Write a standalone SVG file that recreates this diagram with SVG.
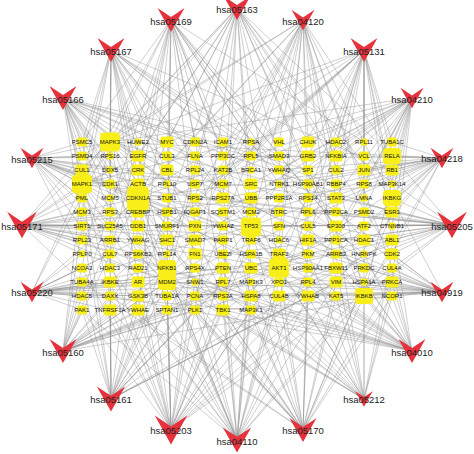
<svg xmlns="http://www.w3.org/2000/svg" xmlns:xlink="http://www.w3.org/1999/xlink" width="474" height="454" viewBox="0 0 474 454">
<style>
.e path{fill:none;stroke:#8c8c8c;stroke-width:0.55;stroke-opacity:0.75}
.g text{font-family:"Liberation Sans",Arial,sans-serif;font-size:6px;text-anchor:middle;fill:#111}
.h text{font-family:"Liberation Sans",Arial,sans-serif;font-size:9.5px;text-anchor:middle;fill:#222}
.y{fill:#F8EF1A}
.v{fill:#E5323C}
</style>
<defs>
<rect id="b1" class="y" x="-3.5" y="-3.5" width="7" height="7" rx="1.5"/>
<rect id="b2" class="y" x="-5" y="-4.5" width="10" height="9" rx="2"/>
<rect id="b3" class="y" x="-6.5" y="-5.5" width="13" height="11" rx="2.5"/>
<rect id="b4" class="y" x="-9" y="-8" width="18" height="16" rx="3.5"/>
<rect id="b5" class="y" x="-10" y="-9.5" width="20" height="19" rx="4"/>
<rect id="b6" class="y" x="-11" y="-13" width="22" height="26" rx="5"/>
<path id="v" class="v" d="M-13.5,-12 L0,-3 L13.5,-12 L0,12 Z"/>
</defs>
<rect width="474" height="454" fill="#fff"/>
<g class="e" id="edges">
<path d="M237 8L110 142M237 8L82 184M237 8L138 198M237 8L251 226M237 8L279 268M237 8L167 268M237 8L167 282M237 8L364 296M237 8L392 198M237 8L392 156M237 8L308 142M237 8L336 156M237 8L167 142M237 8L138 156M237 8L223 198M237 8L251 184M237 8L364 170M237 8L82 170M237 8L195 310M237 8L336 240M237 8L138 296M237 8L308 268M237 8L223 310M237 8L392 254M237 8L82 240"/>
<path d="M171 20L110 142M171 20L82 184M171 20L138 198M171 20L251 226M171 20L279 268M171 20L167 268M171 20L167 282M171 20L82 142M171 20L138 170M171 20L167 170M171 20L195 142M171 20L223 156M171 20L251 142M171 20L279 184M171 20L308 212M171 20L336 226M171 20L364 240M171 20L392 296M171 20L110 254M171 20L82 296M171 20L138 310M171 20L223 282M171 20L251 296M171 20L195 226M171 20L364 142"/>
<path d="M303 20L110 142M303 20L138 198M303 20L251 226M303 20L279 268M303 20L167 282M303 20L364 296M303 20L392 198M303 20L392 156M303 20L308 142M303 20L336 156M303 20L279 142M303 20L251 170M303 20L223 184M303 20L195 212M303 20L364 184M303 20L336 198M303 20L308 226M303 20L279 240M303 20L392 268M303 20L336 282M303 20L195 296M303 20L110 226M303 20L82 156M303 20L167 240"/>
<path d="M111 50L110 142M111 50L82 184M111 50L138 198M111 50L251 226M111 50L279 268M111 50L167 268M111 50L82 142M111 50L82 156M111 50L110 156M111 50L138 142M111 50L167 156M111 50L195 170M111 50L223 142M111 50L110 184M111 50L82 212M111 50L110 226M111 50L138 240M111 50L195 254M111 50L308 184M111 50L336 212M111 50L392 170M111 50L364 254M111 50L223 296M111 50L167 310M111 50L279 156"/>
<path d="M364 50L110 142M364 50L82 184M364 50L138 198M364 50L251 226M364 50L279 268M364 50L364 296M364 50L392 198M364 50L392 156M364 50L392 142M364 50L364 142M364 50L336 142M364 50L364 156M364 50L336 170M364 50L308 156M364 50L392 184M364 50L364 198M364 50L336 212M364 50L308 240M364 50L392 240M364 50L251 156M364 50L223 170M364 50L195 198M364 50L167 226M364 50L279 296M364 50L110 282"/>
<path d="M63 98L110 142M63 98L82 184M63 98L138 198M63 98L251 226M63 98L167 268M63 98L167 282M63 98L82 142M63 98L82 156M63 98L82 170M63 98L110 170M63 98L138 156M63 98L167 184M63 98L195 156M63 98L82 226M63 98L110 212M63 98L138 254M63 98L223 226M63 98L279 198M63 98L308 170M63 98L336 184M63 98L392 212M63 98L364 268M63 98L195 282M63 98L110 296M63 98L251 142"/>
<path d="M412 98L110 142M412 98L138 198M412 98L251 226M412 98L279 268M412 98L364 296M412 98L392 198M412 98L392 156M412 98L392 142M412 98L392 170M412 98L364 170M412 98L336 156M412 98L308 170M412 98L364 184M412 98L392 226M412 98L364 212M412 98L336 240M412 98L308 198M412 98L279 170M412 98L251 184M412 98L223 212M412 98L195 240M412 98L167 198M412 98L82 184M412 98L308 282M412 98L392 282"/>
<path d="M32 158L110 142M32 158L82 184M32 158L138 198M32 158L251 226M32 158L279 268M32 158L167 268M32 158L167 282M32 158L82 142M32 158L82 156M32 158L82 170M32 158L110 156M32 158L110 184M32 158L82 198M32 158L110 198M32 158L138 170M32 158L167 212M32 158L195 184M32 158L223 226M32 158L82 254M32 158L110 268M32 158L138 282M32 158L308 156M32 158L336 198M32 158L392 240M32 158L364 282"/>
<path d="M442 158L110 142M442 158L82 184M442 158L138 198M442 158L251 226M442 158L279 268M442 158L364 296M442 158L392 198M442 158L392 156M442 158L392 142M442 158L392 170M442 158L392 184M442 158L364 156M442 158L364 170M442 158L336 184M442 158L392 212M442 158L364 226M442 158L336 254M442 158L308 212M442 158L279 184M442 158L251 156M442 158L223 198M442 158L195 268M442 158L167 240M442 158L392 254M442 158L336 282"/>
<path d="M22 225L110 142M22 225L82 184M22 225L138 198M22 225L251 226M22 225L279 268M22 225L167 268M22 225L167 282M22 225L82 198M22 225L82 212M22 225L82 226M22 225L82 240M22 225L110 226M22 225L110 240M22 225L82 254M22 225L110 212M22 225L138 226M22 225L138 254M22 225L195 212M22 225L223 240M22 225L110 170M22 225L82 156M22 225L308 226M22 225L336 268M22 225L392 184M22 225L364 240M22 225L251 296M22 225L82 282"/>
<path d="M452 225L110 142M452 225L82 184M452 225L138 198M452 225L251 226M452 225L279 268M452 225L167 282M452 225L364 296M452 225L392 198M452 225L392 156M452 225L392 212M452 225L392 226M452 225L392 240M452 225L364 226M452 225L364 212M452 225L336 240M452 225L392 254M452 225L364 254M452 225L336 198M452 225L308 212M452 225L279 226M452 225L223 254M452 225L195 198M452 225L167 226M452 225L392 268M452 225L308 282M452 225L336 142"/>
<path d="M32 292L110 142M32 292L82 184M32 292L138 198M32 292L251 226M32 292L279 268M32 292L167 268M32 292L167 282M32 292L82 268M32 292L82 282M32 292L82 296M32 292L82 310M32 292L110 282M32 292L110 296M32 292L110 310M32 292L138 296M32 292L138 282M32 292L82 254M32 292L110 254M32 292L195 282M32 292L223 268M32 292L251 310M32 292L308 296M32 292L336 254M32 292L392 282M32 292L138 240"/>
<path d="M442 292L110 142M442 292L138 198M442 292L251 226M442 292L279 268M442 292L167 282M442 292L364 296M442 292L392 198M442 292L392 268M442 292L392 282M442 292L392 296M442 292L364 282M442 292L364 268M442 292L336 296M442 292L336 282M442 292L308 296M442 292L308 268M442 292L392 254M442 292L364 240M442 292L279 282M442 292L251 296M442 292L223 310M442 292L195 268M442 292L336 212M442 292L308 240M442 292L82 296"/>
<path d="M63 351L110 142M63 351L82 184M63 351L138 198M63 351L251 226M63 351L279 268M63 351L167 268M63 351L167 282M63 351L82 310M63 351L110 310M63 351L82 296M63 351L110 296M63 351L138 310M63 351L82 282M63 351L138 268M63 351L167 296M63 351L195 310M63 351L223 296M63 351L110 240M63 351L82 226M63 351L195 254M63 351L251 282M63 351L308 254M63 351L336 268M63 351L392 296M63 351L364 226"/>
<path d="M412 351L110 142M412 351L138 198M412 351L251 226M412 351L279 268M412 351L167 268M412 351L167 282M412 351L364 296M412 351L392 296M412 351L392 282M412 351L364 282M412 351L336 296M412 351L308 282M412 351L392 268M412 351L336 268M412 351L364 254M412 351L251 310M412 351L223 310M412 351L279 296M412 351L251 268M412 351L195 282M412 351L110 296M412 351L82 254M412 351L392 226M412 351L336 240M412 351L308 226"/>
<path d="M111 399L110 142M111 399L82 184M111 399L138 198M111 399L251 226M111 399L279 268M111 399L167 268M111 399L167 282M111 399L82 310M111 399L110 310M111 399L138 310M111 399L167 310M111 399L195 310M111 399L110 296M111 399L138 296M111 399L82 282M111 399L167 254M111 399L195 268M111 399L223 282M111 399L110 254M111 399L308 296M111 399L336 282M111 399L364 268M111 399L392 240M111 399L251 254M111 399L82 226"/>
<path d="M364 399L110 142M364 399L251 226M364 399L279 268M364 399L167 282M364 399L364 296M364 399L392 296M364 399L336 296M364 399L308 296M364 399L364 282M364 399L392 282M364 399L336 268M364 399L279 296M364 399L251 310M364 399L223 310M364 399L195 296M364 399L308 254M364 399L392 254M364 399L138 198M364 399L82 184M364 399L336 226"/>
<path d="M171 430L110 142M171 430L82 184M171 430L138 198M171 430L251 226M171 430L279 268M171 430L167 268M171 430L167 282M171 430L82 310M171 430L110 310M171 430L138 310M171 430L167 310M171 430L195 310M171 430L223 310M171 430L251 310M171 430L138 296M171 430L167 296M171 430L195 282M171 430L223 268M171 430L110 282M171 430L82 268M171 430L279 296M171 430L308 282M171 430L336 296M171 430L364 254M171 430L392 268M171 430L251 240M171 430L195 226M171 430L308 198"/>
<path d="M303 430L110 142M303 430L82 184M303 430L138 198M303 430L251 226M303 430L279 268M303 430L167 268M303 430L167 282M303 430L364 296M303 430L251 310M303 430L223 310M303 430L195 310M303 430L279 296M303 430L308 296M303 430L336 296M303 430L308 282M303 430L336 282M303 430L364 282M303 430L392 296M303 430L392 282M303 430L251 282M303 430L223 254M303 430L308 240M303 430L110 296M303 430L82 282M303 430L392 212M303 430L138 254"/>
<path d="M237 440L110 142M237 440L82 184M237 440L138 198M237 440L251 226M237 440L279 268M237 440L167 268M237 440L167 282M237 440L364 296M237 440L251 310M237 440L223 310M237 440L195 310M237 440L167 310M237 440L138 310M237 440L110 310M237 440L82 310M237 440L251 296M237 440L223 296M237 440L279 296M237 440L308 296M237 440L195 282M237 440L279 282M237 440L308 268M237 440L336 282M237 440L251 254M237 440L223 240M237 440L392 254M237 440L110 268"/>
</g>
<g class="g" id="genes">
<g id="g-PSMC5"><use href="#b2" x="82" y="142"/><text x="82" y="144">PSMC5</text></g>
<g id="g-MAPK3"><use href="#b5" x="110" y="142"/><text x="110" y="144">MAPK3</text></g>
<g id="g-HUWE1"><use href="#b1" x="138" y="142"/><text x="138" y="144">HUWE1</text></g>
<g id="g-MYC"><use href="#b3" x="167" y="142"/><text x="167" y="144">MYC</text></g>
<g id="g-CDKN2A"><use href="#b2" x="195" y="142"/><text x="195" y="144">CDKN2A</text></g>
<g id="g-ICAM1"><use href="#b2" x="223" y="142"/><text x="223" y="144">ICAM1</text></g>
<g id="g-RPSA"><use href="#b1" x="251" y="142"/><text x="251" y="144">RPSA</text></g>
<g id="g-VHL"><use href="#b2" x="279" y="142"/><text x="279" y="144">VHL</text></g>
<g id="g-CHUK"><use href="#b3" x="308" y="142"/><text x="308" y="144">CHUK</text></g>
<g id="g-HDAC2"><use href="#b2" x="336" y="142"/><text x="336" y="144">HDAC2</text></g>
<g id="g-RPL11"><use href="#b1" x="364" y="142"/><text x="364" y="144">RPL11</text></g>
<g id="g-TUBA1C"><use href="#b2" x="392" y="142"/><text x="392" y="144">TUBA1C</text></g>
<g id="g-PSMD4"><use href="#b2" x="82" y="156"/><text x="82" y="158">PSMD4</text></g>
<g id="g-RPS16"><use href="#b1" x="110" y="156"/><text x="110" y="158">RPS16</text></g>
<g id="g-EGFR"><use href="#b3" x="138" y="156"/><text x="138" y="158">EGFR</text></g>
<g id="g-CUL3"><use href="#b2" x="167" y="156"/><text x="167" y="158">CUL3</text></g>
<g id="g-FLNA"><use href="#b2" x="195" y="156"/><text x="195" y="158">FLNA</text></g>
<g id="g-PPP3CC"><use href="#b2" x="223" y="156"/><text x="223" y="158">PPP3CC</text></g>
<g id="g-RPL5"><use href="#b2" x="251" y="156"/><text x="251" y="158">RPL5</text></g>
<g id="g-SMAD3"><use href="#b2" x="279" y="156"/><text x="279" y="158">SMAD3</text></g>
<g id="g-GRB2"><use href="#b3" x="308" y="156"/><text x="308" y="158">GRB2</text></g>
<g id="g-NFKBIA"><use href="#b3" x="336" y="156"/><text x="336" y="158">NFKBIA</text></g>
<g id="g-VCL"><use href="#b2" x="364" y="156"/><text x="364" y="158">VCL</text></g>
<g id="g-RELA"><use href="#b4" x="392" y="156"/><text x="392" y="158">RELA</text></g>
<g id="g-CUL1"><use href="#b3" x="82" y="170"/><text x="82" y="172">CUL1</text></g>
<g id="g-DDX5"><use href="#b1" x="110" y="170"/><text x="110" y="172">DDX5</text></g>
<g id="g-CRK"><use href="#b3" x="138" y="170"/><text x="138" y="172">CRK</text></g>
<g id="g-CBL"><use href="#b3" x="167" y="170"/><text x="167" y="172">CBL</text></g>
<g id="g-RPL24"><use href="#b2" x="195" y="170"/><text x="195" y="172">RPL24</text></g>
<g id="g-KAT2B"><use href="#b2" x="223" y="170"/><text x="223" y="172">KAT2B</text></g>
<g id="g-BRCA1"><use href="#b1" x="251" y="170"/><text x="251" y="172">BRCA1</text></g>
<g id="g-YWHAQ"><use href="#b2" x="279" y="170"/><text x="279" y="172">YWHAQ</text></g>
<g id="g-SP1"><use href="#b2" x="308" y="170"/><text x="308" y="172">SP1</text></g>
<g id="g-CUL2"><use href="#b2" x="336" y="170"/><text x="336" y="172">CUL2</text></g>
<g id="g-JUN"><use href="#b3" x="364" y="170"/><text x="364" y="172">JUN</text></g>
<g id="g-RB1"><use href="#b3" x="392" y="170"/><text x="392" y="172">RB1</text></g>
<g id="g-MAPK1"><use href="#b5" x="82" y="184"/><text x="82" y="186">MAPK1</text></g>
<g id="g-CDK1"><use href="#b2" x="110" y="184"/><text x="110" y="186">CDK1</text></g>
<g id="g-ACTB"><use href="#b3" x="138" y="184"/><text x="138" y="186">ACTB</text></g>
<g id="g-RPL10"><use href="#b1" x="167" y="184"/><text x="167" y="186">RPL10</text></g>
<g id="g-USP7"><use href="#b2" x="195" y="184"/><text x="195" y="186">USP7</text></g>
<g id="g-MCM7"><use href="#b2" x="223" y="184"/><text x="223" y="186">MCM7</text></g>
<g id="g-SRC"><use href="#b3" x="251" y="184"/><text x="251" y="186">SRC</text></g>
<g id="g-NTRK1"><use href="#b1" x="279" y="184"/><text x="279" y="186">NTRK1</text></g>
<g id="g-HSP90AB1"><use href="#b2" x="308" y="184"/><text x="308" y="186">HSP90AB1</text></g>
<g id="g-RBBP4"><use href="#b2" x="336" y="184"/><text x="336" y="186">RBBP4</text></g>
<g id="g-RPS8"><use href="#b2" x="364" y="184"/><text x="364" y="186">RPS8</text></g>
<g id="g-MAP3K14"><use href="#b1" x="392" y="184"/><text x="392" y="186">MAP3K14</text></g>
<g id="g-PML"><use href="#b2" x="82" y="198"/><text x="82" y="200">PML</text></g>
<g id="g-MCM5"><use href="#b1" x="110" y="198"/><text x="110" y="200">MCM5</text></g>
<g id="g-CDKN1A"><use href="#b6" x="138" y="199"/><text x="138" y="200">CDKN1A</text></g>
<g id="g-STUB1"><use href="#b2" x="167" y="198"/><text x="167" y="200">STUB1</text></g>
<g id="g-RPS2"><use href="#b2" x="195" y="198"/><text x="195" y="200">RPS2</text></g>
<g id="g-RPS27A"><use href="#b3" x="223" y="198"/><text x="223" y="200">RPS27A</text></g>
<g id="g-UBB"><use href="#b3" x="251" y="198"/><text x="251" y="200">UBB</text></g>
<g id="g-PPP2R1A"><use href="#b2" x="279" y="198"/><text x="279" y="200">PPP2R1A</text></g>
<g id="g-RPS14"><use href="#b2" x="308" y="198"/><text x="308" y="200">RPS14</text></g>
<g id="g-STAT3"><use href="#b3" x="336" y="198"/><text x="336" y="200">STAT3</text></g>
<g id="g-LMNA"><use href="#b1" x="364" y="198"/><text x="364" y="200">LMNA</text></g>
<g id="g-IKBKG"><use href="#b4" x="392" y="198"/><text x="392" y="200">IKBKG</text></g>
<g id="g-MCM3"><use href="#b2" x="82" y="212"/><text x="82" y="214">MCM3</text></g>
<g id="g-RPS3"><use href="#b2" x="110" y="212"/><text x="110" y="214">RPS3</text></g>
<g id="g-CREBBP"><use href="#b3" x="138" y="212"/><text x="138" y="214">CREBBP</text></g>
<g id="g-HSPB1"><use href="#b2" x="167" y="212"/><text x="167" y="214">HSPB1</text></g>
<g id="g-IQGAP1"><use href="#b2" x="195" y="212"/><text x="195" y="214">IQGAP1</text></g>
<g id="g-SQSTM1"><use href="#b2" x="223" y="212"/><text x="223" y="214">SQSTM1</text></g>
<g id="g-MCM2"><use href="#b2" x="251" y="212"/><text x="251" y="214">MCM2</text></g>
<g id="g-BTRC"><use href="#b2" x="279" y="212"/><text x="279" y="214">BTRC</text></g>
<g id="g-RPL6"><use href="#b2" x="308" y="212"/><text x="308" y="214">RPL6</text></g>
<g id="g-PPP2CA"><use href="#b2" x="336" y="212"/><text x="336" y="214">PPP2CA</text></g>
<g id="g-PSMD2"><use href="#b2" x="364" y="212"/><text x="364" y="214">PSMD2</text></g>
<g id="g-ESR1"><use href="#b3" x="392" y="212"/><text x="392" y="214">ESR1</text></g>
<g id="g-SIRT1"><use href="#b2" x="82" y="226"/><text x="82" y="228">SIRT1</text></g>
<g id="g-SLC25A5"><use href="#b2" x="110" y="226"/><text x="110" y="228">SLC25A5</text></g>
<g id="g-DDB1"><use href="#b3" x="138" y="226"/><text x="138" y="228">DDB1</text></g>
<g id="g-SMURF1"><use href="#b2" x="167" y="226"/><text x="167" y="228">SMURF1</text></g>
<g id="g-PXN"><use href="#b3" x="195" y="226"/><text x="195" y="228">PXN</text></g>
<g id="g-YWHAZ"><use href="#b2" x="223" y="226"/><text x="223" y="228">YWHAZ</text></g>
<g id="g-TP53"><use href="#b5" x="251" y="227"/><text x="251" y="228">TP53</text></g>
<g id="g-SFN"><use href="#b2" x="279" y="226"/><text x="279" y="228">SFN</text></g>
<g id="g-CUL5"><use href="#b2" x="308" y="226"/><text x="308" y="228">CUL5</text></g>
<g id="g-EP300"><use href="#b3" x="336" y="226"/><text x="336" y="228">EP300</text></g>
<g id="g-ATF2"><use href="#b2" x="364" y="226"/><text x="364" y="228">ATF2</text></g>
<g id="g-CTNNB1"><use href="#b1" x="392" y="226"/><text x="392" y="228">CTNNB1</text></g>
<g id="g-RPL23"><use href="#b2" x="82" y="240"/><text x="82" y="242">RPL23</text></g>
<g id="g-ARRB1"><use href="#b2" x="110" y="240"/><text x="110" y="242">ARRB1</text></g>
<g id="g-YWHAG"><use href="#b2" x="138" y="240"/><text x="138" y="242">YWHAG</text></g>
<g id="g-SHC1"><use href="#b3" x="167" y="240"/><text x="167" y="242">SHC1</text></g>
<g id="g-SMAD7"><use href="#b3" x="195" y="240"/><text x="195" y="242">SMAD7</text></g>
<g id="g-PARP1"><use href="#b2" x="223" y="240"/><text x="223" y="242">PARP1</text></g>
<g id="g-TRAF6"><use href="#b2" x="251" y="240"/><text x="251" y="242">TRAF6</text></g>
<g id="g-HDAC6"><use href="#b1" x="279" y="240"/><text x="279" y="242">HDAC6</text></g>
<g id="g-HIF1A"><use href="#b3" x="308" y="240"/><text x="308" y="242">HIF1A</text></g>
<g id="g-PPP1CA"><use href="#b2" x="336" y="240"/><text x="336" y="242">PPP1CA</text></g>
<g id="g-HDAC1"><use href="#b3" x="364" y="240"/><text x="364" y="242">HDAC1</text></g>
<g id="g-ABL1"><use href="#b3" x="392" y="240"/><text x="392" y="242">ABL1</text></g>
<g id="g-RPLP0"><use href="#b1" x="82" y="254"/><text x="82" y="256">RPLP0</text></g>
<g id="g-CUL7"><use href="#b2" x="110" y="254"/><text x="110" y="256">CUL7</text></g>
<g id="g-RPS6KB2"><use href="#b2" x="138" y="254"/><text x="138" y="256">RPS6KB2</text></g>
<g id="g-RPL14"><use href="#b1" x="167" y="254"/><text x="167" y="256">RPL14</text></g>
<g id="g-FN1"><use href="#b3" x="195" y="254"/><text x="195" y="256">FN1</text></g>
<g id="g-UBE2I"><use href="#b2" x="223" y="254"/><text x="223" y="256">UBE2I</text></g>
<g id="g-HSPA1B"><use href="#b2" x="251" y="254"/><text x="251" y="256">HSPA1B</text></g>
<g id="g-TRAF2"><use href="#b3" x="279" y="254"/><text x="279" y="256">TRAF2</text></g>
<g id="g-PKM"><use href="#b2" x="308" y="254"/><text x="308" y="256">PKM</text></g>
<g id="g-ARRB2"><use href="#b2" x="336" y="254"/><text x="336" y="256">ARRB2</text></g>
<g id="g-HNRNPK"><use href="#b1" x="364" y="254"/><text x="364" y="256">HNRNPK</text></g>
<g id="g-CDK2"><use href="#b3" x="392" y="254"/><text x="392" y="256">CDK2</text></g>
<g id="g-NCOA3"><use href="#b2" x="82" y="268"/><text x="82" y="270">NCOA3</text></g>
<g id="g-HDAC3"><use href="#b2" x="110" y="268"/><text x="110" y="270">HDAC3</text></g>
<g id="g-RAD21"><use href="#b2" x="138" y="268"/><text x="138" y="270">RAD21</text></g>
<g id="g-NFKB1"><use href="#b4" x="167" y="268"/><text x="167" y="270">NFKB1</text></g>
<g id="g-RPS4X"><use href="#b2" x="195" y="268"/><text x="195" y="270">RPS4X</text></g>
<g id="g-PTEN"><use href="#b3" x="223" y="268"/><text x="223" y="270">PTEN</text></g>
<g id="g-UBC"><use href="#b3" x="251" y="268"/><text x="251" y="270">UBC</text></g>
<g id="g-AKT1"><use href="#b5" x="279" y="268"/><text x="279" y="270">AKT1</text></g>
<g id="g-HSP90AA1"><use href="#b2" x="308" y="268"/><text x="308" y="270">HSP90AA1</text></g>
<g id="g-FBXW11"><use href="#b3" x="336" y="268"/><text x="336" y="270">FBXW11</text></g>
<g id="g-PRKDC"><use href="#b2" x="364" y="268"/><text x="364" y="270">PRKDC</text></g>
<g id="g-CUL4A"><use href="#b2" x="392" y="268"/><text x="392" y="270">CUL4A</text></g>
<g id="g-TUBA4A"><use href="#b2" x="82" y="282"/><text x="82" y="284">TUBA4A</text></g>
<g id="g-IKBKE"><use href="#b3" x="110" y="282"/><text x="110" y="284">IKBKE</text></g>
<g id="g-AR"><use href="#b3" x="138" y="282"/><text x="138" y="284">AR</text></g>
<g id="g-MDM2"><use href="#b4" x="167" y="282"/><text x="167" y="284">MDM2</text></g>
<g id="g-SNW1"><use href="#b1" x="195" y="282"/><text x="195" y="284">SNW1</text></g>
<g id="g-RPL7"><use href="#b2" x="223" y="282"/><text x="223" y="284">RPL7</text></g>
<g id="g-MAP3K3"><use href="#b1" x="251" y="282"/><text x="251" y="284">MAP3K3</text></g>
<g id="g-XPO1"><use href="#b2" x="279" y="282"/><text x="279" y="284">XPO1</text></g>
<g id="g-RPL4"><use href="#b2" x="308" y="282"/><text x="308" y="284">RPL4</text></g>
<g id="g-VIM"><use href="#b3" x="336" y="282"/><text x="336" y="284">VIM</text></g>
<g id="g-HSPA1A"><use href="#b1" x="364" y="282"/><text x="364" y="284">HSPA1A</text></g>
<g id="g-PRKCA"><use href="#b3" x="392" y="282"/><text x="392" y="284">PRKCA</text></g>
<g id="g-HDAC5"><use href="#b2" x="82" y="296"/><text x="82" y="298">HDAC5</text></g>
<g id="g-DAXX"><use href="#b2" x="110" y="296"/><text x="110" y="298">DAXX</text></g>
<g id="g-GSK3B"><use href="#b3" x="138" y="296"/><text x="138" y="298">GSK3B</text></g>
<g id="g-TUBA1A"><use href="#b2" x="167" y="296"/><text x="167" y="298">TUBA1A</text></g>
<g id="g-PCNA"><use href="#b2" x="195" y="296"/><text x="195" y="298">PCNA</text></g>
<g id="g-RPS3A"><use href="#b2" x="223" y="296"/><text x="223" y="298">RPS3A</text></g>
<g id="g-HSPA8"><use href="#b3" x="251" y="296"/><text x="251" y="298">HSPA8</text></g>
<g id="g-CUL4B"><use href="#b3" x="279" y="296"/><text x="279" y="298">CUL4B</text></g>
<g id="g-YWHAB"><use href="#b3" x="308" y="296"/><text x="308" y="298">YWHAB</text></g>
<g id="g-KAT5"><use href="#b2" x="336" y="296"/><text x="336" y="298">KAT5</text></g>
<g id="g-IKBKB"><use href="#b4" x="364" y="296"/><text x="364" y="298">IKBKB</text></g>
<g id="g-NCOR1"><use href="#b2" x="392" y="296"/><text x="392" y="298">NCOR1</text></g>
<g id="g-PAK1"><use href="#b2" x="82" y="310"/><text x="82" y="312">PAK1</text></g>
<g id="g-TNFRSF1A"><use href="#b3" x="110" y="310"/><text x="110" y="312">TNFRSF1A</text></g>
<g id="g-YWHAE"><use href="#b3" x="138" y="310"/><text x="138" y="312">YWHAE</text></g>
<g id="g-SPTAN1"><use href="#b2" x="167" y="310"/><text x="167" y="312">SPTAN1</text></g>
<g id="g-PLK1"><use href="#b2" x="195" y="310"/><text x="195" y="312">PLK1</text></g>
<g id="g-TBK1"><use href="#b3" x="223" y="310"/><text x="223" y="312">TBK1</text></g>
<g id="g-MAP3K1"><use href="#b2" x="251" y="310"/><text x="251" y="312">MAP3K1</text></g>
</g>
<g class="h" id="pathways">
<g id="h-05163"><use href="#v" transform="translate(237,8)"/><text x="237" y="13">hsa05163</text></g>
<g id="h-05169"><use href="#v" transform="translate(171,20)"/><text x="171" y="24.5">hsa05169</text></g>
<g id="h-04120"><use href="#v" transform="translate(303,20) scale(0.85)"/><text x="303" y="24.5">hsa04120</text></g>
<g id="h-05167"><use href="#v" transform="translate(111,50)"/><text x="111" y="55">hsa05167</text></g>
<g id="h-05131"><use href="#v" transform="translate(364,50)"/><text x="364" y="55">hsa05131</text></g>
<g id="h-05166"><use href="#v" transform="translate(63,98)"/><text x="63" y="102.5">hsa05166</text></g>
<g id="h-04210"><use href="#v" transform="translate(412,98) scale(0.85)"/><text x="412" y="102.5">hsa04210</text></g>
<g id="h-05215"><use href="#v" transform="translate(32,158) scale(0.85)"/><text x="32" y="162.5">hsa05215</text></g>
<g id="h-04218"><use href="#v" transform="translate(442,158) scale(0.85)"/><text x="442" y="162">hsa04218</text></g>
<g id="h-05171"><use href="#v" transform="translate(22,225) scale(1.1)"/><text x="22" y="229.5">hsa05171</text></g>
<g id="h-05205"><use href="#v" transform="translate(452,225) scale(1.1)"/><text x="452" y="229.5">hsa05205</text></g>
<g id="h-05220"><use href="#v" transform="translate(32,292) scale(0.85)"/><text x="32" y="296">hsa05220</text></g>
<g id="h-04919"><use href="#v" transform="translate(442,292) scale(0.85)"/><text x="442" y="296">hsa04919</text></g>
<g id="h-05160"><use href="#v" transform="translate(63,351)"/><text x="63" y="355.5">hsa05160</text></g>
<g id="h-04010"><use href="#v" transform="translate(412,351)"/><text x="412" y="355.5">hsa04010</text></g>
<g id="h-05161"><use href="#v" transform="translate(111,399) scale(1.05)"/><text x="111" y="403">hsa05161</text></g>
<g id="h-05212"><use href="#v" transform="translate(364,399) scale(0.65)"/><text x="364" y="403">hsa05212</text></g>
<g id="h-05203"><use href="#v" transform="translate(171,430) scale(1.2)"/><text x="171" y="434">hsa05203</text></g>
<g id="h-05170"><use href="#v" transform="translate(303,430)"/><text x="303" y="434">hsa05170</text></g>
<g id="h-04110"><use href="#v" transform="translate(237,440) scale(1.05)"/><text x="237" y="444.5">hsa04110</text></g>
</g>
</svg>
